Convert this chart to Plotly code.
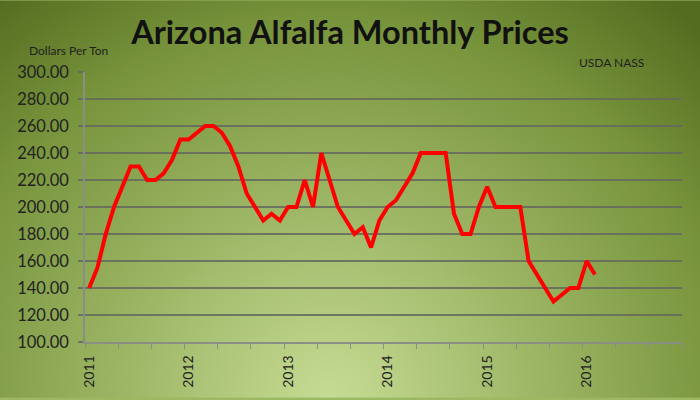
import base64
import struct
import zlib

import numpy as np
import plotly.graph_objects as go

# ---------------- data ----------------
years = [2011, 2012, 2013, 2014, 2015, 2016]
prices_2011 = [140, 155, 180, 200, 215, 230, 230, 220, 220, 225, 235, 250]
prices_2012 = [250, 255, 260, 260, 255, 245, 230, 210, 200, 190, 195, 190]
prices_2013 = [200, 200, 220, 200, 240, 220, 200, 190, 180, 185, 170, 190]
prices_2014 = [200, 205, 215, 225, 240, 240, 240, 240, 195, 180, 180, 200]
prices_2015 = [215, 200, 200, 200, 200, 160, 150, 140, 130, 135, 140, 140]
prices_2016 = [160, 150]
y_ticks = [100, 120, 140, 160, 180, 200, 220, 240, 260, 280, 300]

prices = prices_2011 + prices_2012 + prices_2013 + prices_2014 + prices_2015 + prices_2016
month_pos = [i + 0.5 for i in range(len(prices))]  # category centres
year_pos = [12 * k + 0.5 for k in range(len(years))]

# ---------------- background gradient ----------------
W, H = 700, 400
ML, MR, MT, MB = 85, 18, 72, 56
PW, PH = W - ML - MR, H - MT - MB


def png_datauri(arr):
    h, w, _ = arr.shape
    raw = b"".join(b"\x00" + arr[r].tobytes() for r in range(h))

    def chunk(t, d):
        c = struct.pack(">I", len(d)) + t + d
        return c + struct.pack(">I", zlib.crc32(t + d) & 0xFFFFFFFF)

    png = (b"\x89PNG\r\n\x1a\n"
           + chunk(b"IHDR", struct.pack(">IIBBBBB", w, h, 8, 2, 0, 0, 0))
           + chunk(b"IDAT", zlib.compress(raw, 9))
           + chunk(b"IEND", b""))
    return "data:image/png;base64," + base64.b64encode(png).decode()


gw, gh = 350, 200
xs = (np.arange(gw) + 0.5) * W / gw
ys = (np.arange(gh) + 0.5) * H / gh
X, Y = np.meshgrid(xs, ys)
t = np.sqrt(((X - 330) / 400.0) ** 2 + ((Y - 400) / 380.0) ** 2)
light = np.array([198, 220, 148], float)
dark = np.array([120, 148, 60], float)
darker = np.array([84, 108, 32], float)
s1 = np.clip(t, 0, 1)[..., None]
s2 = np.clip((t - 1.0) / 0.35, 0, 1)[..., None]
col = light * (1 - s1) + dark * s1
col = col * (1 - s2) + darker * s2
img = np.clip(col, 0, 255).astype(np.uint8)
bg_uri = png_datauri(img)

# ---------------- figure ----------------
fig = go.Figure()
fig.add_trace(go.Scatter(
    x=month_pos, y=prices, mode="lines",
    line=dict(color="#ff0000", width=4), showlegend=False, hoverinfo="skip"))

font_family = "Lato, 'Open Sans', sans-serif"
grid_col = "rgba(100,105,95,0.85)"
axis_col = "#8a8f86"

fig.update_layout(
    width=W, height=H,
    margin=dict(l=ML, r=MR, t=MT, b=MB),
    paper_bgcolor="#9cb862",
    plot_bgcolor="rgba(0,0,0,0)",
    font=dict(family=font_family, color="#1f1f1f"),
    title=dict(text="<b>Arizona Alfalfa Monthly Prices</b>",
               x=0.5, xref="container", xanchor="center",
               y=1 - 33 / H, yanchor="middle",
               font=dict(size=32.5, color="#111111", family=font_family)),
    images=[dict(source=bg_uri, xref="paper", yref="paper",
                 x=-ML / PW, y=1 + MT / PH, sizex=W / PW, sizey=H / PH,
                 xanchor="left", yanchor="top", sizing="stretch",
                 layer="below")],
    xaxis=dict(range=[0, 72], tickmode="array", tickvals=year_pos,
               ticktext=[str(y) for y in years], tickangle=-90,
               ticks="outside", ticklen=0, showgrid=False, zeroline=False,
               showline=True, linecolor=axis_col, linewidth=1.5,
               ticklabelstandoff=6,
               tickfont=dict(size=14, color="#222"),
               minor=dict(tickmode="linear", tick0=0, dtick=4, ticks="outside",
                          ticklen=5, tickcolor=axis_col, tickwidth=1.2,
                          showgrid=False)),
    yaxis=dict(range=[100, 300], tickmode="array", tickvals=y_ticks,
               ticktext=[f"{v:.2f}" for v in y_ticks],
               ticks="outside", ticklen=5, tickcolor=grid_col, tickwidth=1.5,
               ticklabelstandoff=6,
               showgrid=True, gridcolor=grid_col, gridwidth=1.5,
               zeroline=False, showline=True, linecolor=axis_col, linewidth=1.5,
               tickfont=dict(size=16.5, color="#222")),
    annotations=[
        dict(text="Dollars Per Ton", xref="paper", yref="paper",
             x=-58 / PW, y=1 + (MT - 50) / PH, xanchor="left", yanchor="middle",
             showarrow=False, font=dict(size=12, color="#1f1f1f", family=font_family)),
        dict(text="USDA NASS", xref="paper", yref="paper",
             x=(577 - ML) / PW, y=1 - (62 - MT) / PH, xanchor="left", yanchor="middle",
             showarrow=False, font=dict(size=12, color="#1f1f1f", family=font_family)),
    ],
)

fig.write_html("out.html")
